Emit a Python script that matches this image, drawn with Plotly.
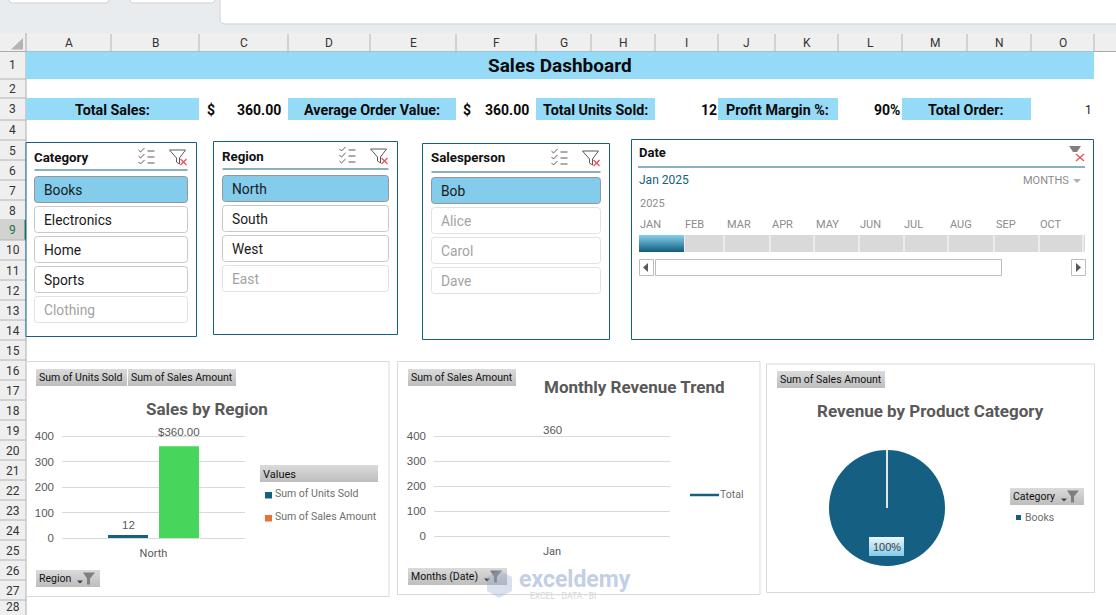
# -*- coding: utf-8 -*-

import plotly.graph_objects as go

W = 1116
H = 615

# ---- data ----
COL_LETTERS = ["A", "B", "C", "D", "E", "F", "G", "H", "I", "J", "K", "L", "M", "N", "O"]
ROW_NUMBERS = list(range(1, 29))

DASH_TITLE = "Sales Dashboard"
KPI_LABELS = ["Total Sales:", "Average Order Value:", "Total Units Sold:", "Profit Margin %:", "Total Order:"]
KPI_VALUES = ["360.00", "360.00", "12", "90%", "1"]

CATEGORY_ITEMS = ["Books", "Electronics", "Home", "Sports", "Clothing"]
CATEGORY_STATE = ["on", "off", "off", "off", "dim"]
REGION_ITEMS = ["North", "South", "West", "East"]
REGION_STATE = ["on", "off", "off", "dim"]
SALESPERSON_ITEMS = ["Bob", "Alice", "Carol", "Dave"]
SALESPERSON_STATE = ["on", "dim", "dim", "dim"]
MONTH_LABELS = ["JAN", "FEB", "MAR", "APR", "MAY", "JUN", "JUL", "AUG", "SEP", "OCT"]

REGIONS = ["North"]
UNITS_SOLD = [12]
SALES_AMOUNT = [360]
TREND_MONTHS = ["Jan"]
TREND_REVENUE = [360]
PIE_CATEGORIES = ["Books"]
PIE_REVENUE = [360]
Y_TICKS = [0, 100, 200, 300, 400]

# ---- colours / fonts ----
FONT = "Roboto"
BLUE = "#156082"
SKY = "#95DBF7"
SELECTED = "#83CCEB"
GREEN = "#47D65B"
ORANGE = "#E97132"
TXT = "#595959"
DIM = "#A3A3A3"
GRID = "#D9D9D9"

shapes = []
notes = []


def fx(x):
    return x / W


def fy(y):
    return 1 - y / H


def rect(x0, y0, x1, y1, fill="rgba(0,0,0,0)", line=None, lw=1, layer="below"):
    shapes.append(dict(type="rect", xref="paper", yref="paper", x0=fx(x0), x1=fx(x1), y0=fy(y0), y1=fy(y1),
                       fillcolor=fill, line=dict(color=line or "rgba(0,0,0,0)", width=lw if line else 0), layer=layer))


def seg(x0, y0, x1, y1, color, lw=1, layer="below"):
    shapes.append(dict(type="line", xref="paper", yref="paper", x0=fx(x0), x1=fx(x1), y0=fy(y0), y1=fy(y1),
                       line=dict(color=color, width=lw), layer=layer))


def path(points, fill="rgba(0,0,0,0)", line=None, lw=1, close=True, layer="below"):
    d = "M" + " L".join(f"{fx(a):.5f},{fy(b):.5f}" for a, b in points)
    if close:
        d += " Z"
    shapes.append(dict(type="path", xref="paper", yref="paper", path=d, fillcolor=fill,
                       line=dict(color=line or "rgba(0,0,0,0)", width=lw if line else 0), layer=layer))


def round_rect(x0, y0, x1, y1, fill, line, r=3, lw=1):
    d = (f"M{fx(x0 + r):.5f},{fy(y0):.5f} L{fx(x1 - r):.5f},{fy(y0):.5f} Q{fx(x1):.5f},{fy(y0):.5f} {fx(x1):.5f},{fy(y0 + r):.5f} "
         f"L{fx(x1):.5f},{fy(y1 - r):.5f} Q{fx(x1):.5f},{fy(y1):.5f} {fx(x1 - r):.5f},{fy(y1):.5f} "
         f"L{fx(x0 + r):.5f},{fy(y1):.5f} Q{fx(x0):.5f},{fy(y1):.5f} {fx(x0):.5f},{fy(y1 - r):.5f} "
         f"L{fx(x0):.5f},{fy(y0 + r):.5f} Q{fx(x0):.5f},{fy(y0):.5f} {fx(x0 + r):.5f},{fy(y0):.5f} Z")
    shapes.append(dict(type="path", xref="paper", yref="paper", path=d, fillcolor=fill,
                       line=dict(color=line, width=lw), layer="below"))


def vgrad(x0, y0, x1, y1, c0, c1, layer="below"):
    # no gradient fill on shapes, so stack 1px strips
    a = [int(c0[i:i + 2], 16) for i in (1, 3, 5)]
    b = [int(c1[i:i + 2], 16) for i in (1, 3, 5)]
    n = int(y1 - y0)
    for i in range(n):
        t = i / max(n - 1, 1)
        c = [round(a[k] + (b[k] - a[k]) * t) for k in range(3)]
        rect(x0, y0 + i, x1, y0 + i + 1, fill="rgb(%d,%d,%d)" % tuple(c), layer=layer)


def text(x, y, s, size=11, color="#000000", weight=400, anchor="left", font=FONT):
    notes.append(dict(xref="paper", yref="paper", x=fx(x), y=fy(y), text=s, showarrow=False, xanchor=anchor,
                      yanchor="middle", borderpad=0, borderwidth=0,
                      font=dict(family=font, size=size, color=color, weight=weight)))


def multi_icon(x, y):
    for dy in (-6, 0, 6):
        path([(x - 8, y + dy - 1), (x - 6, y + dy + 1), (x - 2, y + dy - 3)], line="#595959", close=False)
        seg(x + 1, y + dy, x + 8, y + dy, "#595959")


def funnel_clear(x, y):
    path([(x - 8, y - 7), (x + 8, y - 7), (x + 2, y + 1), (x + 2, y + 7), (x - 1, y + 5), (x - 1, y + 1)], line="#595959")
    seg(x + 3, y + 2, x + 9, y + 8, "#E8505B", 1.3)
    seg(x + 9, y + 2, x + 3, y + 8, "#E8505B", 1.3)


def field_button(x0, y0, x1, y1, label, funnel=False):
    vgrad(x0, y0, x1, y1, "#DADADA", "#BEBEBE")
    text(x0 + 3, (y0 + y1) / 2, label, 10.5, "#111111")
    if funnel:
        fxr = x1 - 11
        fm = (y0 + y1) / 2
        path([(fxr - 6, fm - 6), (fxr + 6, fm - 6), (fxr + 1, fm), (fxr + 1, fm + 6), (fxr - 2, fm + 6), (fxr - 2, fm)], fill="#7F7F7F")
        path([(fxr - 12, fm + 2), (fxr - 6, fm + 2), (fxr - 9, fm + 5)], fill="#404040")


def slicer(x0, y0, x1, y1, title, items, state, bx0, bx1, first_y, title_y, div_y):
    rect(x0, y0, x1, y1, fill="#FFFFFF", line=BLUE, lw=1)
    text(bx0 - 0.5, title_y, title, 13.3, "#111111", 700)
    seg(bx0, div_y, bx1, div_y, BLUE)
    multi_icon(x1 - 50, title_y)
    funnel_clear(x1 - 19, title_y)
    for i, (name, st) in enumerate(zip(items, state)):
        top = first_y + i * 30
        if st == "on":
            round_rect(bx0, top, bx1, top + 26, SELECTED, "#969696")
        elif st == "off":
            round_rect(bx0, top, bx1, top + 26, "#FFFFFF", "#C8C8C8")
        else:
            round_rect(bx0, top, bx1, top + 26, "#FFFFFF", "#E2E2E2")
        text(bx0 + 9, top + 13.5, name, 13.8, "#1A1A1A" if st != "dim" else DIM)


# ---- ribbon + sheet headers ----
rect(0, 0, W, 33, fill="#E9ECEF")
round_rect(9, -8, 109, 3, "#FFFFFF", "#CFCFCF")
round_rect(130, -8, 215, 3, "#FFFFFF", "#CFCFCF")
round_rect(220, -8, W + 8, 24, "#FFFFFF", "#D0D0D0", r=5)

COL_EDGES = [26, 111, 199, 288, 370, 456, 536, 591, 655, 718, 775, 838, 902, 967, 1031, 1094]
rect(0, 33, W, 51, fill="#EFEFEF")
rect(0, 51, 26, H, fill="#EFEFEF")
seg(0, 51.5, W, 51.5, "#ABABAB", 1.2)
seg(26, 33, 26, H, "#ABABAB", 1)
path([(23, 38), (23, 49.5), (11, 49.5)], fill="#B4B4B4")
for i, letter in enumerate(COL_LETTERS):
    seg(COL_EDGES[i + 1], 34, COL_EDGES[i + 1], 51, "#B4B4B4")
    text((COL_EDGES[i] + COL_EDGES[i + 1]) / 2, 43, letter, 12, "#333333", anchor="center")

ROW_EDGES = [51, 79, 98, 120, 140] + [160 + 20 * i for i in range(24)]
for i, n in enumerate(ROW_NUMBERS):
    a, b = ROW_EDGES[i], ROW_EDGES[i + 1]
    if n == 9:
        rect(0, a, 24.5, b, fill="#D2D2D2")
        rect(24.5, a, 26.5, b, fill="#217346")
    seg(0, b, 26, b, "#B4B4B4")
    # row 28 is clipped by the window, keep it just inside
    text(12.5, min((a + b) / 2 + 0.5, 607), str(n), 12, "#217346" if n == 9 else "#333333", anchor="center")

# ---- title band + KPIs ----
rect(26, 51.5, 1094, 79, fill=SKY)
text(560, 65.5, DASH_TITLE, 19, "#0A0A0A", 700, "center")

KPI_BANDS = [(26, 199), (288, 456), (536, 655), (718, 838), (902, 1031)]
for (a, b), label in zip(KPI_BANDS, KPI_LABELS):
    rect(a, 98, b, 120, fill=SKY)
    text((a + b) / 2 - 0.5, 110, label, 14.3, "#0A0A0A", 700, "center")
text(211, 110, "$", 14, "#0A0A0A", 700, "center")
text(281, 110, KPI_VALUES[0], 14, "#0A0A0A", 700, "right")
text(467, 110, "$", 14, "#0A0A0A", 700, "center")
text(529, 110, KPI_VALUES[1], 14, "#0A0A0A", 700, "right")
text(717, 110, KPI_VALUES[2], 14, "#0A0A0A", 700, "right")
text(900, 110, KPI_VALUES[3], 14, "#0A0A0A", 700, "right")
text(1092, 110, KPI_VALUES[4], 12, "#222222", 400, "right")

# ---- slicers ----
slicer(26, 142.5, 196.5, 336.5, "Category", CATEGORY_ITEMS, CATEGORY_STATE, 34.5, 187.5, 176.5, 157, 170)
slicer(213.5, 141.5, 397.5, 334.5, "Region", REGION_ITEMS, REGION_STATE, 222.5, 388.5, 175.5, 156, 169)
slicer(422.5, 143.5, 609.5, 339.5, "Salesperson", SALESPERSON_ITEMS, SALESPERSON_STATE, 431.5, 600.5, 177.5, 158, 172)

# date timeline
rect(631.5, 139.5, 1093.5, 339.5, fill="#FFFFFF", line=BLUE)
text(639, 152, "Date", 13, "#111111", 700)
seg(638, 167, 1085, 167, BLUE)
path([(1069, 146), (1081, 146), (1077, 152), (1073, 152)], fill="#7F7F7F")
seg(1076, 154, 1084, 161, "#E8505B", 1.3)
seg(1084, 154, 1076, 161, "#E8505B", 1.3)
text(639, 180, "Jan 2025", 12, BLUE)
text(1069, 180, "MONTHS", 11, "#8C8C8C", anchor="right")
path([(1073, 179), (1081, 179), (1077, 183)], fill="#B0B0B0")
text(640, 203, "2025", 11, "#8C8C8C")

MONTH_EDGES = [639, 684, 724, 770, 814, 859, 904, 948, 994, 1039, 1083]
MONTH_TEXT_X = [640, 685, 727, 772, 816, 860, 904, 950, 996, 1040]
for lab, tx in zip(MONTH_LABELS, MONTH_TEXT_X):
    text(tx, 224, lab, 11, "#8C8C8C")
vgrad(639, 235, 684, 252, "#83CCEB", BLUE)
for i in range(1, 10):
    rect(MONTH_EDGES[i] + 0.5, 235, MONTH_EDGES[i + 1] - 0.5, 252, fill="#D9D9D9")
rect(1083.5, 235, 1085, 252, fill="#D9D9D9")
rect(639.5, 259.5, 653.5, 275.5, fill="#FFFFFF", line="#BDBDBD")
path([(648, 263), (648, 272), (643, 267.5)], fill="#595959")
rect(655.5, 259.5, 1001.5, 275.5, fill="#FFFFFF", line="#BDBDBD")
rect(1071.5, 259.5, 1085.5, 275.5, fill="#FFFFFF", line="#BDBDBD")
path([(1076, 263), (1076, 272), (1081, 267.5)], fill="#595959")

# ---- chart panels ----
rect(26, 361.5, 389, 596.5, line="#D9D9D9")
rect(397.5, 361.5, 760, 594.5, line="#D9D9D9")
rect(766.5, 364, 1094.5, 592.5, line="#D9D9D9")

# chart 1 furniture
field_button(36, 369, 127, 386, "Sum of Units Sold")
field_button(128, 369, 236, 386, "Sum of Sales Amount")
field_button(36, 570, 100, 587, "Region", funnel=True)
text(207, 409, "Sales by Region", 17, TXT, 700, "center")
vgrad(260, 465, 378, 482, "#DADADA", "#BEBEBE")
text(263, 474, "Values", 11, "#111111")
rect(265, 492, 272, 498.5, fill=BLUE)
text(275, 493, "Sum of Units Sold", 10.5, "#6E6E6E")
rect(265, 515, 272, 521.5, fill=ORANGE)
text(275, 516, "Sum of Sales Amount", 10.5, "#6E6E6E")

# chart 2 furniture
field_button(408, 369, 516, 386, "Sum of Sales Amount")
field_button(408, 568, 507, 585, "Months (Date)", funnel=True)
text(634, 387, "Monthly Revenue Trend", 17, TXT, 700, "center")
seg(690, 495, 719, 495, BLUE, 2.5)
text(720, 494, "Total", 10.5, "#6E6E6E")

# chart 3 furniture
field_button(777, 371, 885, 388, "Sum of Sales Amount")
text(930, 411, "Revenue by Product Category", 17, TXT, 700, "center")
field_button(1010, 488, 1084, 505, "Category", funnel=True)
rect(1016, 515, 1021, 520, fill=BLUE)
text(1025, 517, "Books", 10.5, "#6E6E6E")

# ---- charts through the library's own scales ----
fig = go.Figure()

fig.add_trace(go.Bar(x=REGIONS, y=UNITS_SOLD, name="Sum of Units Sold", marker=dict(color=BLUE, line=dict(width=0)),
                     xaxis="x", yaxis="y", showlegend=False))
fig.add_trace(go.Bar(x=REGIONS, y=SALES_AMOUNT, name="Sum of Sales Amount", marker=dict(color=GREEN, line=dict(width=0)),
                     xaxis="x", yaxis="y", showlegend=False))
fig.add_trace(go.Scatter(x=TREND_MONTHS, y=TREND_REVENUE, name="Total", mode="lines", line=dict(color=BLUE, width=2.5),
                         xaxis="x2", yaxis="y2", showlegend=False))
fig.add_trace(go.Pie(labels=PIE_CATEGORIES, values=PIE_REVENUE, marker=dict(colors=[BLUE], line=dict(width=0)),
                     textinfo="none", sort=False, showlegend=False,
                     domain=dict(x=[fx(829), fx(945)], y=[fy(566), fy(450)])))

# data labels hang off the data values
label_font = dict(family="Liberation Sans", size=11.5, color=TXT)
notes.append(dict(x=REGIONS[0], y=UNITS_SOLD[0], xref="x", yref="y", text=str(UNITS_SOLD[0]), showarrow=False,
                  xshift=-25.5, yshift=10, font=label_font))
notes.append(dict(x=REGIONS[0], y=SALES_AMOUNT[0], xref="x", yref="y", text="$%.2f" % SALES_AMOUNT[0], showarrow=False,
                  xshift=25.5, yshift=14, font=label_font))
notes.append(dict(x=TREND_MONTHS[0], y=TREND_REVENUE[0], xref="x2", yref="y2", text=str(TREND_REVENUE[0]), showarrow=False,
                  yshift=16, font=label_font))

# pie seam and 100% tag sit over the pie
seg(887, 450, 887, 508, "#E4E4E4", 2, layer="above")
vgrad(869, 537, 904, 556, "#EAF5FB", "#83CCEB", layer="above")
share = PIE_REVENUE[0] / sum(PIE_REVENUE) * 100
text(886.5, 546.5, "%.0f%%" % share, 11, "#404040", anchor="center", font="Liberation Sans")

# watermark
path([(499, 570), (512, 577), (512, 591), (499, 598), (487, 591), (487, 577)], fill="rgba(150,170,205,0.35)", layer="above")
text(519, 579, "exceldemy", 23, "#C3CFE4", 700)
text(530, 596, "EXCEL · DATA · BI", 8.5, "#D5D5D5", 400)

# plotly drops a gridline within 1px of the range end, so the range runs a bit past 400
Y_TOP = 412
axis_font = dict(family="Liberation Sans", size=11.5, color=TXT)
y_common = dict(range=[0, Y_TOP], tickvals=Y_TICKS, gridcolor=GRID, gridwidth=1, zeroline=True, zerolinecolor=GRID,
                zerolinewidth=1, showline=False, tickfont=axis_font, ticklabelstandoff=7, fixedrange=True)
x_common = dict(type="category", showgrid=False, showline=False, tickfont=dict(family=FONT, size=11, color=TXT),
                ticklabelstandoff=7, fixedrange=True)

fig.update_layout(
    width=W, height=H, margin=dict(l=0, r=0, t=0, b=0, pad=0, autoexpand=False), autosize=False,
    paper_bgcolor="#FFFFFF", plot_bgcolor="rgba(0,0,0,0)",
    barmode="group", bargap=0.443, bargroupgap=0.216, showlegend=False,
    xaxis=dict(domain=[fx(62), fx(245)], anchor="y", **x_common),
    yaxis=dict(domain=[fy(538), fy(538 - 102 * Y_TOP / 400)], anchor="x", **y_common),
    xaxis2=dict(domain=[fx(434), fx(670)], anchor="y2", **x_common),
    yaxis2=dict(domain=[fy(536), fy(536 - 100 * Y_TOP / 400)], anchor="x2", **y_common),
    shapes=shapes, annotations=notes,
)

# the page's default body margin would push the whole sheet off by 8px
fig.write_html("out.html", config={"displayModeBar": False},
               post_script="document.body.style.margin='0';document.documentElement.style.overflow='hidden';")
